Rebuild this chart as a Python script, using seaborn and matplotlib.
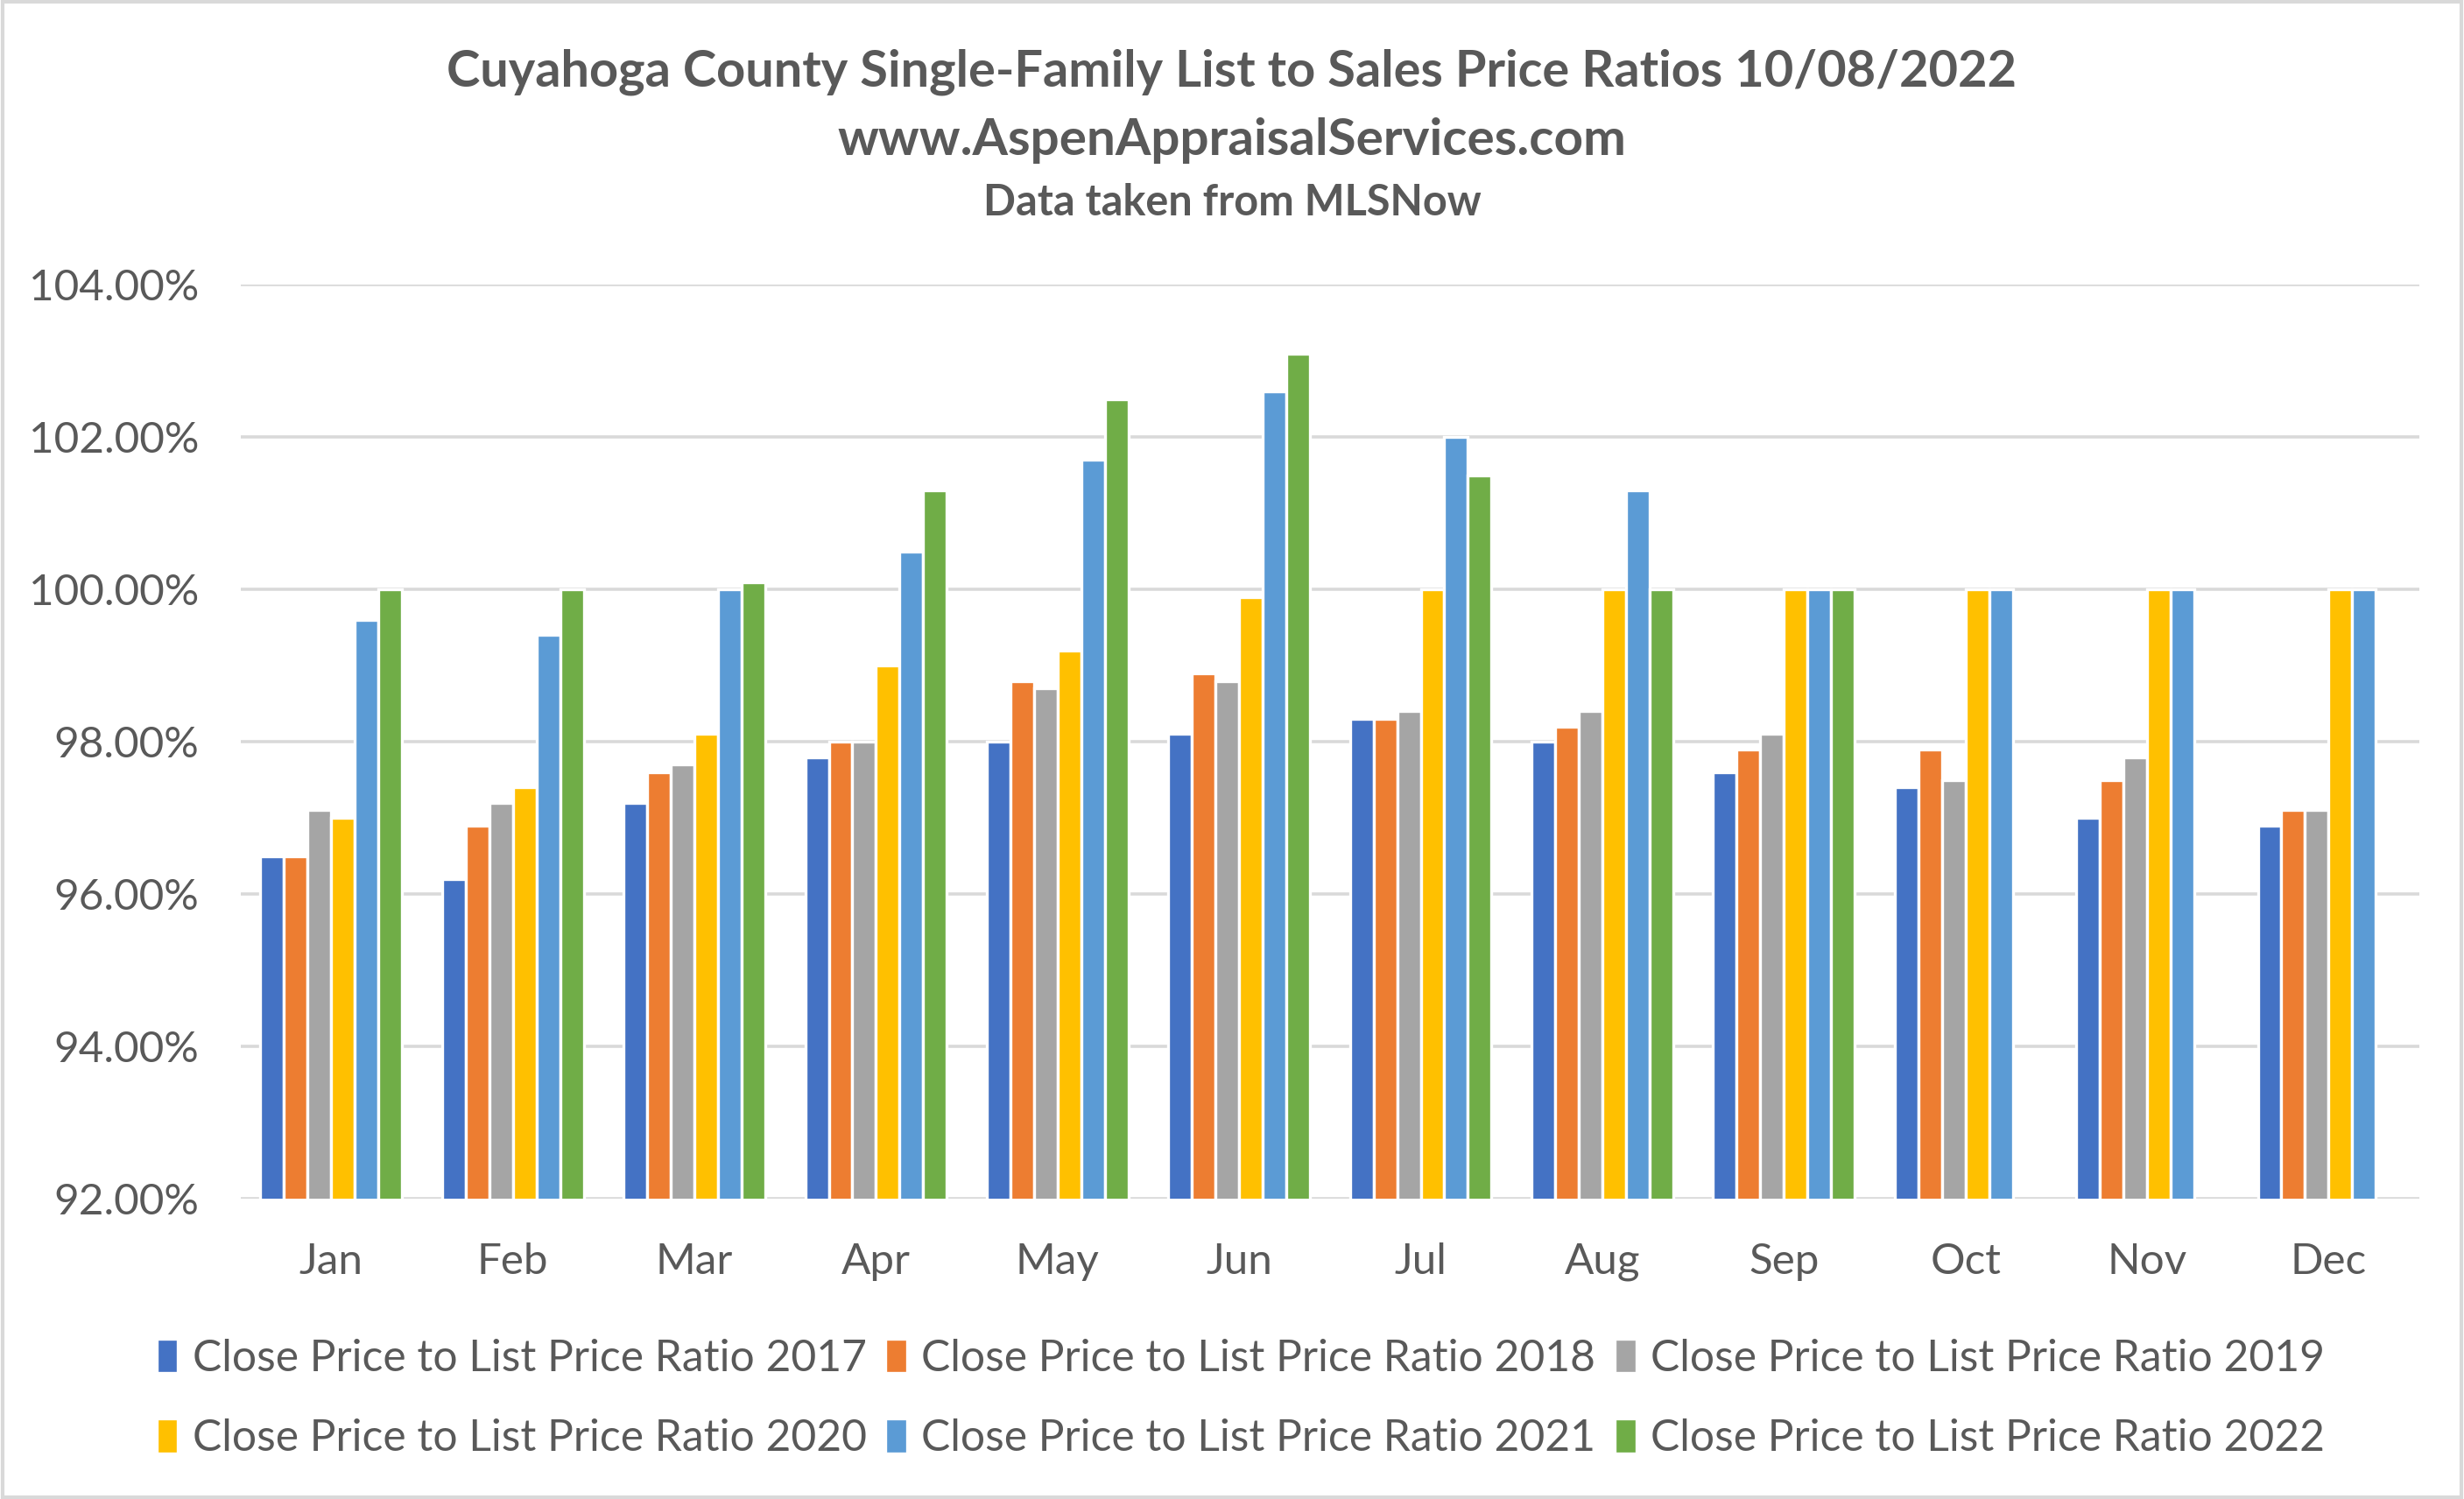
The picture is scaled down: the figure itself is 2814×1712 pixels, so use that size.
import numpy as np
import pandas as pd
import matplotlib
matplotlib.use("Agg")
import matplotlib.pyplot as plt
import seaborn as sns
from matplotlib.ticker import FuncFormatter
from matplotlib.patches import Rectangle

# Data (percent)
months = ["Jan", "Feb", "Mar", "Apr", "May", "Jun",
          "Jul", "Aug", "Sep", "Oct", "Nov", "Dec"]
years = ["2017", "2018", "2019", "2020", "2021", "2022"]
ratio_2017 = [96.5, 96.2, 97.2, 97.8, 98.0, 98.1, 98.3, 98.0, 97.6, 97.4, 97.0, 96.9]
ratio_2018 = [96.5, 96.9, 97.6, 98.0, 98.8, 98.9, 98.3, 98.2, 97.9, 97.9, 97.5, 97.1]
ratio_2019 = [97.1, 97.2, 97.7, 98.0, 98.7, 98.8, 98.4, 98.4, 98.1, 97.5, 97.8, 97.1]
ratio_2020 = [97.0, 97.4, 98.1, 99.0, 99.2, 99.9, 100.0, 100.0, 100.0, 100.0, 100.0, 100.0]
ratio_2021 = [99.6, 99.4, 100.0, 100.5, 101.7, 102.6, 102.0, 101.3, 100.0, 100.0, 100.0, 100.0]
ratio_2022 = [100.0, 100.0, 100.1, 101.3, 102.5, 103.1, 101.5, 100.0, 100.0, np.nan, np.nan, np.nan]

colors = ["#4472C4", "#ED7D31", "#A5A5A5", "#FFC000", "#5B9BD5", "#70AD47"]
series_labels = ["Close Price to List Price Ratio " + y for y in years]

all_series = [ratio_2017, ratio_2018, ratio_2019, ratio_2020, ratio_2021, ratio_2022]
df = pd.DataFrame({
    "month": months * len(years),
    "series": np.repeat(series_labels, len(months)),
    "ratio": np.concatenate(all_series),
})

text_color = "#595959"
grid_color = "#D9D9D9"
font = "Lato"

sns.set_style("white")
plt.rcParams["font.family"] = [font, "DejaVu Sans"]

fig = plt.figure(figsize=(14.07, 8.56), dpi=200)
ax = fig.add_axes([0.0976, 0.2003, 0.8843, 0.6097])

sns.barplot(data=df, x="month", y="ratio", hue="series", palette=colors,
            width=0.78, edgecolor="white", linewidth=1.2, saturation=1,
            ax=ax, legend=True)

ax.set_ylim(92, 104)
ax.set_yticks(np.arange(92, 104.1, 2))
ax.yaxis.set_major_formatter(FuncFormatter(lambda v, p: f"{v:.2f}%"))
ax.grid(axis="y", color=grid_color, linewidth=1.3)
ax.set_axisbelow(True)
for s in ax.spines.values():
    s.set_visible(False)
ax.tick_params(axis="both", length=0, labelsize=17.8, colors=text_color)
ax.tick_params(axis="x", pad=18)
ax.tick_params(axis="y", pad=17)
ax.set_xlabel("")
ax.set_ylabel("")
ax.set_xlim(-0.5, len(months) - 0.5)

# legend: fill rows left to right
handles, labels = ax.get_legend_handles_labels()
order = [0, 3, 1, 4, 2, 5]
ax.legend([handles[i] for i in order], [labels[i] for i in order],
          ncol=3, loc="upper center", bbox_to_anchor=(0.459, -0.110),
          frameon=False, fontsize=17.9, labelcolor=text_color,
          handlelength=0.5, handleheight=0.85, handletextpad=0.33,
          columnspacing=0.43, labelspacing=0.92)

fig.text(0.5, 0.952, "Cuyahoga County Single-Family List to Sales Price Ratios 10/08/2022",
         ha="center", va="center", fontsize=20.8, fontweight="bold", color=text_color)
fig.text(0.5, 0.906, "www.AspenAppraisalServices.com",
         ha="center", va="center", fontsize=21, fontweight="bold", color=text_color)
fig.text(0.5, 0.865, "Data taken from MLSNow",
         ha="center", va="center", fontsize=17.5, fontweight="bold", color=text_color)

fig.patches.append(Rectangle((0.001, 0.001), 0.998, 0.998, transform=fig.transFigure,
                             fill=False, edgecolor=grid_color, linewidth=1.5))

fig.savefig("out.png", dpi=200, facecolor="white")
